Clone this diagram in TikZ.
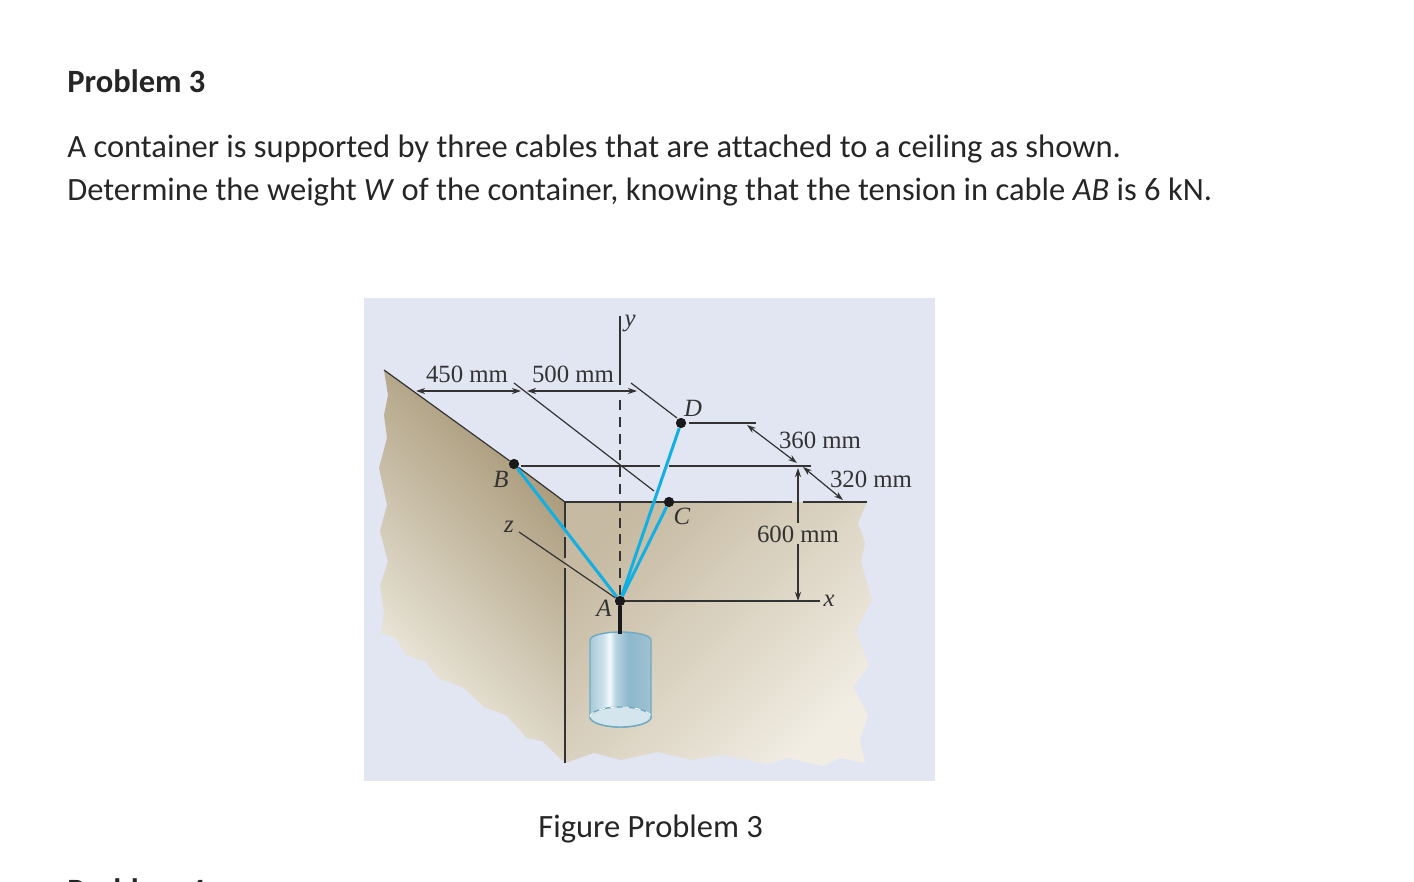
\documentclass[tikz,border=0pt]{standalone}
\usepackage{fontspec}
\usetikzlibrary{arrows.meta}
\setmainfont[Ligatures=NoCommon]{Carlito}
\newfontfamily\figfont{Liberation Serif}
\definecolor{figbg}{HTML}{E2E6F3}
\definecolor{cable}{HTML}{12B0E2}
\definecolor{inkline}{HTML}{333333}
\definecolor{wallA}{HTML}{A39270}
\definecolor{wallB}{HTML}{F1EEE3}
\definecolor{wallC}{HTML}{C6BAA2}
\definecolor{wallD}{HTML}{F1EDE3}
\definecolor{canedge}{HTML}{6FA9C2}
\pgfdeclarehorizontalshading{canshade}{100bp}{
  rgb(0bp)=(0.66,0.79,0.85);
  rgb(25bp)=(0.66,0.79,0.85);
  rgb(36bp)=(0.80,0.89,0.93);
  rgb(41bp)=(0.95,0.98,0.99);
  rgb(46bp)=(0.72,0.83,0.88);
  rgb(57bp)=(0.55,0.72,0.80);
  rgb(75bp)=(0.63,0.76,0.82);
  rgb(100bp)=(0.63,0.76,0.82)}
\tikzset{
  heading/.style={anchor=base west,inner sep=0pt,font=\fontsize{16.26}{19}\selectfont\color{black!85}},
  figlabel/.style={inner sep=0pt,font=\figfont\fontsize{12.4}{14}\selectfont\color{black!80}},
  figletter/.style={inner sep=0pt,font=\figfont\itshape\fontsize{12.4}{14}\selectfont\color{black!80}},
  thinline/.style={draw=inkline,line width=0.6pt},
  dimline/.style={thinline,{Stealth[length=4.5pt,width=3pt]}-{Stealth[length=4.5pt,width=3pt]}},
  joint/.style={circle,fill=black!90,inner sep=0pt,minimum size=5pt},
  cableline/.style={draw=cable,line width=1.5pt},
}
\begin{document}
\begin{tikzpicture}[x=0.5pt,y=-0.5pt]
\useasboundingbox (0,0) rectangle (1414,882);
\fill[white] (0,0) rectangle (1414,882);
\clip (0,0) rectangle (1414,882);
% text
\node[heading] (title) at (67,93) {\textbf{Problem 3}};
\node[heading] (lineone) at (67,158) {A container is supported by three cables that are attached to a ceiling as shown.};
\node[heading] (linetwo) at (67,201) {Determine the weight \textit{W} of the container, knowing that the tension in cable \textit{AB} is 6 kN.};
\node[heading] (caption) at (538,837) {Figure Problem 3};
\node[heading] (nexttitle) at (67,901) {\textbf{Problem 4}};
% walls
\fill[figbg] (364,298) rectangle (935,781);
\shade[top color=wallC,bottom color=wallD,shading angle=45]
  (565,502) -- (867,502) -- (858,523) -- (865,543) -- (861,562) -- (872,600) -- (856,631)
  -- (869,665) -- (853,687) -- (868,715) -- (860,740) -- (865,763) -- (840,758) -- (823,766)
  -- (788,758) -- (768,764) -- (723,755) -- (692,760) -- (657,752) -- (621,760) -- (594,753)
  -- (565,763) -- cycle;
\shade[top color=wallA,bottom color=wallB,shading angle=-45]
  (384,370) -- (388,395) -- (384,415) -- (387,438) -- (379,468) -- (387,505) -- (380,531)
  -- (388,562) -- (380,585) -- (384,613) -- (381,633) -- (396,638) -- (406,655) -- (426,662)
  -- (438,678) -- (464,688) -- (484,707) -- (506,715) -- (527,738) -- (542,741) -- (565,763)
  -- (565,502) -- cycle;
% points
\coordinate (wallTop) at (384,370);
\coordinate (corner) at (565,502);
\coordinate (ceilEnd) at (867,502);
\coordinate (cornerEnd) at (565,763);
\node[joint] (A) at (620,601) {};
\node[joint] (B) at (514,464) {};
\node[joint] (C) at (669,502) {};
\node[joint] (D) at (681,423) {};
\coordinate (stemEnd) at (620,634);
% container
\shade[shading=canshade,shading angle=0]
  (590,640) arc[start angle=180,end angle=360,x radius=30.5,y radius=8] -- (651,717)
  arc[start angle=0,end angle=180,x radius=30.5,y radius=10] -- cycle;
\draw[canedge,line width=0.7pt]
  (590,640) arc[start angle=180,end angle=360,x radius=30.5,y radius=8] -- (651,717)
  arc[start angle=0,end angle=180,x radius=30.5,y radius=10] -- cycle;
\fill[canedge!30!white,draw=canedge,line width=0.7pt] (620.5,717) ellipse[x radius=30.5,y radius=10];
\draw[white,dashed,line width=0.5pt] (590,717) arc[start angle=180,end angle=360,x radius=30.5,y radius=10];
% edges of the ceiling and the walls
\coordinate (gapOneTop) at (565,531);
\coordinate (gapOneEnd) at (565,537);
\coordinate (gapTwoTop) at (565,558);
\coordinate (gapTwoEnd) at (565,568);
\coordinate (gapDimL) at (792,502);
\coordinate (gapDimR) at (803,502);
\draw[thinline] (wallTop) -- (B) -- (corner);
\draw[thinline] (corner) -- (gapDimL);
\draw[thinline] (gapDimR) -- (ceilEnd);
\draw[thinline] (corner) -- (gapOneTop);
\draw[thinline] (gapOneEnd) -- (gapTwoTop);
\draw[thinline] (gapTwoEnd) -- (cornerEnd);
% axes
\coordinate (yTop) at (620,316);
\coordinate (yEnd) at (620,385);
\coordinate (yDash) at (620,400);
\coordinate (xEnd) at (820,601);
\coordinate (zEnd) at (519,532);
\draw[thinline] (yTop) -- (yEnd);
\draw[thinline,dash pattern=on 5pt off 3.4pt] (yDash) -- (A);
\draw[thinline] (A) -- (xEnd);
\draw[thinline] (A) -- (zEnd);
% extension lines
\coordinate (extOne) at (514,383);
\coordinate (extOneEnd) at (654,491);
\coordinate (extTwo) at (631,383);
\coordinate (extTwoEnd) at (677,418);
\coordinate (bOne) at (521,466);
\coordinate (bTwo) at (660,466);
\coordinate (bThree) at (669,466);
\coordinate (bFour) at (811,466);
\coordinate (dEnd) at (756,423);
\coordinate (dStart) at (689,423);
\draw[thinline] (extOne) -- (extOneEnd);
\draw[thinline] (extTwo) -- (extTwoEnd);
\draw[thinline] (bOne) -- (bTwo);
\draw[thinline] (bThree) -- (bFour);
\draw[thinline] (dStart) -- (dEnd);
% dimensions
\coordinate (dimA) at (416,391);
\coordinate (dimB) at (521,391);
\coordinate (dimC) at (527,391);
\coordinate (dimD) at (637,391);
\coordinate (dimE) at (747,425);
\coordinate (dimF) at (797,463);
\coordinate (dimG) at (803,467);
\coordinate (dimH) at (843,500);
\coordinate (dimI) at (798,468);
\coordinate (dimJ) at (798,523);
\coordinate (dimK) at (798,544);
\coordinate (dimL) at (798,601);
\draw[dimline] (dimA) -- (dimB);
\draw[dimline] (dimC) -- (dimD);
\draw[dimline] (dimE) -- (dimF);
\draw[dimline] (dimG) -- (dimH);
\draw[thinline,{Stealth[length=4.5pt,width=3pt]}-] (dimI) -- (dimJ);
\draw[thinline,-{Stealth[length=4.5pt,width=3pt]}] (dimK) -- (dimL);
% cables
\draw[cableline] (A) -- (B);
\draw[cableline] (A) -- (C);
\draw[cableline] (A) -- (D);
\draw[black!90,line width=1.6pt] (A) -- (stemEnd);
\node[joint] at (A) {};
\node[joint] at (B) {};
\node[joint] at (C) {};
\node[joint] at (D) {};
% labels
\node[figlabel] (l450) at (467,374) {450 mm};
\node[figlabel] (l500) at (573,374) {500 mm};
\node[figlabel] (l360) at (820,440) {360 mm};
\node[figlabel] (l320) at (871,479) {320 mm};
\node[figlabel] (l600) at (798,534) {600 mm};
\node[figletter] (ly) at (630,323) {y};
\node[figletter] (lx) at (829,601) {x};
\node[figletter] (lz) at (509,527) {z};
\node[figletter] (lA) at (604,608) {A};
\node[figletter] (lB) at (501,479) {B};
\node[figletter] (lC) at (682,516) {C};
\node[figletter] (lD) at (693,408) {D};
\end{tikzpicture}
\end{document}
